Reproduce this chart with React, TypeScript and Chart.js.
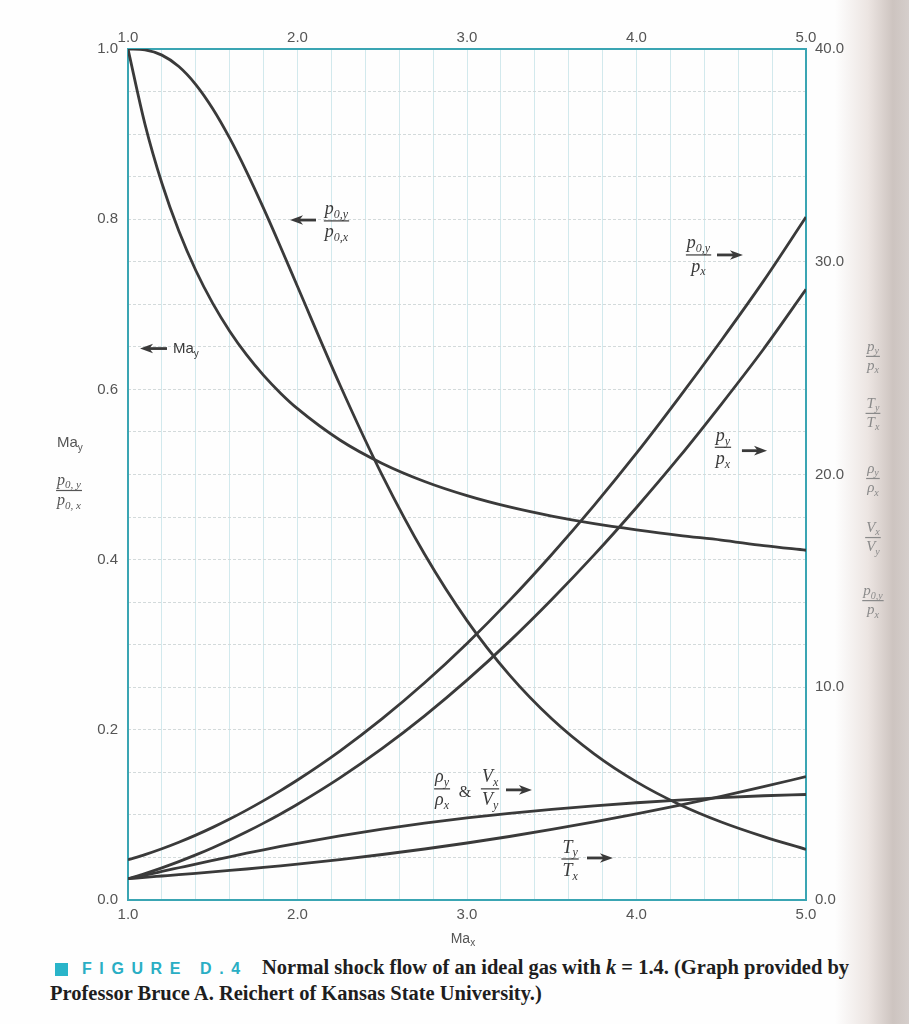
import React, { useEffect, useRef } from 'react';
import { Chart, registerables } from 'chart.js';

Chart.register(...registerables);

// Upstream Mach number Ma_x
const machX = [1.0, 1.1, 1.2, 1.3, 1.4, 1.5, 1.6, 1.7, 1.8, 1.9, 2.0, 2.25, 2.5, 2.75, 3.0, 3.25, 3.5, 3.75, 4.0, 4.25, 4.5, 4.75, 5.0];
// Left axis series
const machY = [1.0, 0.9118, 0.8422, 0.786, 0.7397, 0.7011, 0.6684, 0.6405, 0.6165, 0.5956, 0.5774, 0.5406, 0.513, 0.4918, 0.4752, 0.4619, 0.4512, 0.4423, 0.435, 0.4285, 0.423, 0.4165, 0.411];
const p0yOverP0x = [1.0, 0.9989, 0.9928, 0.9794, 0.9582, 0.9298, 0.8952, 0.8557, 0.8127, 0.7674, 0.7209, 0.6055, 0.499, 0.4062, 0.3283, 0.2645, 0.2129, 0.1717, 0.1388, 0.1126, 0.0917, 0.0745, 0.0595];
// Right axis series
const p0yOverPx = [1.893, 2.133, 2.408, 2.714, 3.049, 3.413, 3.805, 4.224, 4.67, 5.143, 5.64, 7.002, 8.526, 10.212, 12.061, 14.071, 16.242, 18.55, 21.0, 23.6, 26.3, 29.1, 32.1];
const pyOverPx = [1.0, 1.245, 1.513, 1.805, 2.12, 2.458, 2.82, 3.205, 3.613, 4.045, 4.5, 5.74, 7.125, 8.656, 10.333, 12.156, 14.125, 16.22, 18.45, 20.8, 23.3, 25.9, 28.7];
const rhoyOverRhox = [1.0, 1.169, 1.342, 1.516, 1.69, 1.862, 2.032, 2.198, 2.359, 2.516, 2.667, 3.019, 3.333, 3.612, 3.857, 4.072, 4.261, 4.426, 4.571, 4.699, 4.812, 4.9, 4.96];
const tyOverTx = [1.0, 1.065, 1.128, 1.191, 1.255, 1.32, 1.388, 1.458, 1.532, 1.608, 1.688, 1.901, 2.138, 2.397, 2.679, 2.985, 3.315, 3.669, 4.047, 4.449, 4.875, 5.325, 5.8];

const SERIF = '"Liberation Serif", "DejaVu Serif", serif';
const SANS = '"Liberation Sans", Arial, sans-serif';
const INK = '#3a3a3a';

type Part = { t: string; sub?: boolean; it?: boolean; sans?: boolean };

function partFont(p: Part, size: number) {
  const s = p.sub ? Math.round(size * 0.68) : size;
  return `${p.it ? 'italic ' : ''}${s}px ${p.sans ? SANS : SERIF}`;
}
function richWidth(ctx: CanvasRenderingContext2D, parts: Part[], size: number) {
  let w = 0;
  for (const p of parts) {
    ctx.font = partFont(p, size);
    w += ctx.measureText(p.t).width;
  }
  return w;
}
function drawRich(ctx: CanvasRenderingContext2D, parts: Part[], x: number, y: number, size: number, align: 'center' | 'left') {
  const w = richWidth(ctx, parts, size);
  let cx = align === 'center' ? x - w / 2 : x;
  ctx.textAlign = 'left';
  ctx.textBaseline = 'alphabetic';
  for (const p of parts) {
    ctx.font = partFont(p, size);
    ctx.fillText(p.t, cx, y + (p.sub ? size * 0.22 : 0));
    cx += ctx.measureText(p.t).width;
  }
}
function drawFrac(ctx: CanvasRenderingContext2D, cx: number, barY: number, num: Part[], den: Part[], size: number, color: string) {
  ctx.fillStyle = color;
  const w = Math.max(richWidth(ctx, num, size), richWidth(ctx, den, size)) + 2;
  drawRich(ctx, num, cx, barY - size * 0.36, size, 'center');
  drawRich(ctx, den, cx, barY + size * 0.92, size, 'center');
  ctx.fillRect(cx - w / 2, barY - 0.6, w, 1.2);
}
function drawArrow(ctx: CanvasRenderingContext2D, x1: number, x2: number, y: number, color: string) {
  const dir = Math.sign(x2 - x1);
  const L = 13, hw = 4.8;
  ctx.strokeStyle = color;
  ctx.fillStyle = color;
  ctx.lineWidth = 2.8;
  ctx.beginPath();
  ctx.moveTo(x1, y);
  ctx.lineTo(x2 - dir * L * 0.6, y);
  ctx.stroke();
  ctx.beginPath();
  ctx.moveTo(x2, y);
  ctx.lineTo(x2 - dir * L, y - hw);
  ctx.lineTo(x2 - dir * L * 0.72, y);
  ctx.lineTo(x2 - dir * L, y + hw);
  ctx.closePath();
  ctx.fill();
}

const P = (t: string): Part => ({ t, it: true });
const S = (t: string): Part => ({ t, it: true, sub: true });

const annotationPlugin = {
  id: 'annotations',
  beforeDatasetsDraw(chart: any) {
    const { ctx, chartArea: a } = chart;
    ctx.save();
    ctx.strokeStyle = '#3aa5b3';
    ctx.lineWidth = 2;
    ctx.strokeRect(a.left, a.top, a.right - a.left, a.bottom - a.top);
    ctx.restore();
  },
  afterDraw(chart: any) {
    const ctx: CanvasRenderingContext2D = chart.ctx;
    const sx = chart.scales.x, sy = chart.scales.y;
    const X = (v: number) => sx.getPixelForValue(v);
    const Y = (v: number) => sy.getPixelForValue(v);
    const FS = 18;
    ctx.save();
    // p0y/p0x
    drawArrow(ctx, X(2.109), X(1.956), Y(0.799), INK);
    drawFrac(ctx, X(2.23), Y(0.798), [P('p'), S('0,y')], [P('p'), S('0,x')], FS, INK);
    // Ma_y
    drawArrow(ctx, X(1.23), X(1.071), Y(0.648), INK);
    ctx.fillStyle = INK;
    drawRich(ctx, [{ t: 'Ma', sans: true }, { t: 'y', sans: true, sub: true }], X(1.265), Y(0.6424), 15, 'left');
    // p0y/px
    drawFrac(ctx, X(4.366), Y(0.758), [P('p'), S('0,y')], [P('p'), S('x')], FS, INK);
    drawArrow(ctx, X(4.475), X(4.628), Y(0.758), INK);
    // py/px
    drawFrac(ctx, X(4.51), Y(0.532), [P('p'), S('y')], [P('p'), S('x')], FS, INK);
    drawArrow(ctx, X(4.622), X(4.77), Y(0.528), INK);
    // rho & V
    drawFrac(ctx, X(2.853), Y(0.1306), [P('ρ'), S('y')], [P('ρ'), S('x')], FS, INK);
    ctx.fillStyle = INK;
    drawRich(ctx, [{ t: '&' }], X(2.988), Y(0.121), 16, 'center');
    drawFrac(ctx, X(3.136), Y(0.1306), [P('V'), S('x')], [P('V'), S('y')], FS, INK);
    drawArrow(ctx, X(3.23), X(3.383), Y(0.1294), INK);
    // T
    drawFrac(ctx, X(3.608), Y(0.0482), [P('T'), S('y')], [P('T'), S('x')], FS, INK);
    drawArrow(ctx, X(3.708), X(3.861), Y(0.0494), INK);

    // left axis titles
    const GREY = '#555555';
    ctx.fillStyle = GREY;
    drawRich(ctx, [{ t: 'Ma', sans: true }, { t: 'y', sans: true, sub: true }], X(0.581), Y(0.5318), 15, 'left');
    drawFrac(ctx, X(0.652), Y(0.4812), [P('p'), S('0, y')], [P('p'), S('0, x')], 16, GREY);

    // bottom axis title
    ctx.fillStyle = GREY;
    drawRich(ctx, [{ t: 'Ma', sans: true }, { t: 'x', sans: true, sub: true }], X(2.976), Y(-0.05), 14, 'center');

    // right side labels
    const FADE = '#8a8a8a';
    const rx = X(5.395);
    drawFrac(ctx, rx, Y(0.6388), [P('p'), S('y')], [P('p'), S('x')], 15, FADE);
    drawFrac(ctx, rx, Y(0.5718), [P('T'), S('y')], [P('T'), S('x')], 15, FADE);
    drawFrac(ctx, rx, Y(0.4953), [P('ρ'), S('y')], [P('ρ'), S('x')], 15, FADE);
    drawFrac(ctx, rx, Y(0.4259), [P('V'), S('x')], [P('V'), S('y')], 15, FADE);
    drawFrac(ctx, rx, Y(0.3518), [P('p'), S('0,y')], [P('p'), S('x')], 15, FADE);
    ctx.restore();
  },
};

const tickFont = { family: SANS, size: 15 };
const tickColor = '#555555';
const isMult = (v: number, step: number) => Math.abs(v / step - Math.round(v / step)) < 1e-6;

export default function App() {
  const ref = useRef<HTMLCanvasElement | null>(null);
  useEffect(() => {
    if (!ref.current) return;
    const series = (arr: number[]) => machX.map((x, i) => ({ x, y: arr[i] }));
    const ds = (label: string, arr: number[], axis: string) => ({
      label,
      data: series(arr),
      yAxisID: axis,
      borderColor: INK,
      borderWidth: 2.8,
      pointRadius: 0,
      fill: false,
      cubicInterpolationMode: 'monotone' as const,
    });
    const chart = new Chart(ref.current, {
      type: 'line',
      data: {
        datasets: [
          ds('Ma_y', machY, 'y'),
          ds('p0y/p0x', p0yOverP0x, 'y'),
          ds('p0y/px', p0yOverPx, 'y2'),
          ds('py/px', pyOverPx, 'y2'),
          ds('rhoy/rhox', rhoyOverRhox, 'y2'),
          ds('Ty/Tx', tyOverTx, 'y2'),
        ],
      },
      options: {
        responsive: false,
        devicePixelRatio: 1,
        animation: false,
        events: [],
        layout: { padding: 0 },
        plugins: { legend: { display: false }, tooltip: { enabled: false } },
        scales: {
          x: {
            type: 'linear',
            position: 'bottom',
            min: 1,
            max: 5,
            border: { display: false },
            grid: { color: '#d2e9ed', lineWidth: 1, drawTicks: false },
            ticks: {
              stepSize: 0.2,
              autoSkip: false,
              maxRotation: 0,
              padding: 6,
              font: tickFont,
              color: tickColor,
              callback: (v: any) => (isMult(Number(v), 1) ? Number(v).toFixed(1) : ''),
            },
            afterFit: (s: any) => { s.height = 55; },
          },
          x2: {
            type: 'linear',
            position: 'top',
            min: 1,
            max: 5,
            border: { display: false },
            grid: { display: false, drawTicks: false },
            ticks: {
              stepSize: 1,
              maxRotation: 0,
              padding: 2,
              font: tickFont,
              color: tickColor,
              callback: (v: any) => Number(v).toFixed(1),
            },
            afterFit: (s: any) => { s.height = 49; },
          },
          y: {
            type: 'linear',
            position: 'left',
            min: 0,
            max: 1,
            border: { display: false, dash: [3, 2] },
            grid: { color: '#d3dadb', lineWidth: 1, drawTicks: false },
            ticks: {
              stepSize: 0.05,
              autoSkip: false,
              padding: 10,
              font: tickFont,
              color: tickColor,
              callback: (v: any) => (isMult(Number(v), 0.2) ? Number(v).toFixed(1) : ''),
            },
            afterFit: (s: any) => { s.width = 128; },
          },
          y2: {
            type: 'linear',
            position: 'right',
            min: 0,
            max: 40,
            border: { display: false },
            grid: { display: false, drawTicks: false },
            ticks: {
              stepSize: 10,
              padding: 9,
              font: tickFont,
              color: tickColor,
              callback: (v: any) => Number(v).toFixed(1),
            },
            afterFit: (s: any) => { s.width = 103; },
          },
        },
      } as any,
      plugins: [annotationPlugin],
    });
    return () => chart.destroy();
  }, []);

  return (
    <div
      style={{
        position: 'absolute',
        left: 0,
        top: 0,
        width: 909,
        height: 1024,
        overflow: 'hidden',
        background: 'linear-gradient(to right, #fefefe 0px, #fefefe 835px, #ece5e2 868px, #cdc4c0 893px, #d5cecb 909px)',
      }}
    >
      <canvas ref={ref} width={909} height={955} style={{ position: 'absolute', left: 0, top: 0, display: 'block' }} />
      <div style={{ position: 'absolute', left: 55, top: 963, width: 13, height: 13, background: '#29b4c9' }} />
      <div
        style={{
          position: 'absolute',
          left: 82,
          top: 959,
          font: `bold 16px ${SANS}`,
          letterSpacing: '7.6px',
          color: '#2aaec4',
          lineHeight: '20px',
          whiteSpace: 'nowrap',
        }}
      >
        FIGURE D.4
      </div>
      <div
        style={{
          position: 'absolute',
          left: 262,
          top: 955,
          font: `bold 20.5px ${SERIF}`,
          color: '#1e1e1e',
          lineHeight: '24px',
          whiteSpace: 'nowrap',
        }}
      >
        Normal shock flow of an ideal gas with <i>k</i> = 1.4. (Graph provided by
      </div>
      <div
        style={{
          position: 'absolute',
          left: 50,
          top: 981,
          font: `bold 20.5px ${SERIF}`,
          color: '#1e1e1e',
          lineHeight: '24px',
          whiteSpace: 'nowrap',
        }}
      >
        Professor Bruce A. Reichert of Kansas State University.)
      </div>
    </div>
  );
}
